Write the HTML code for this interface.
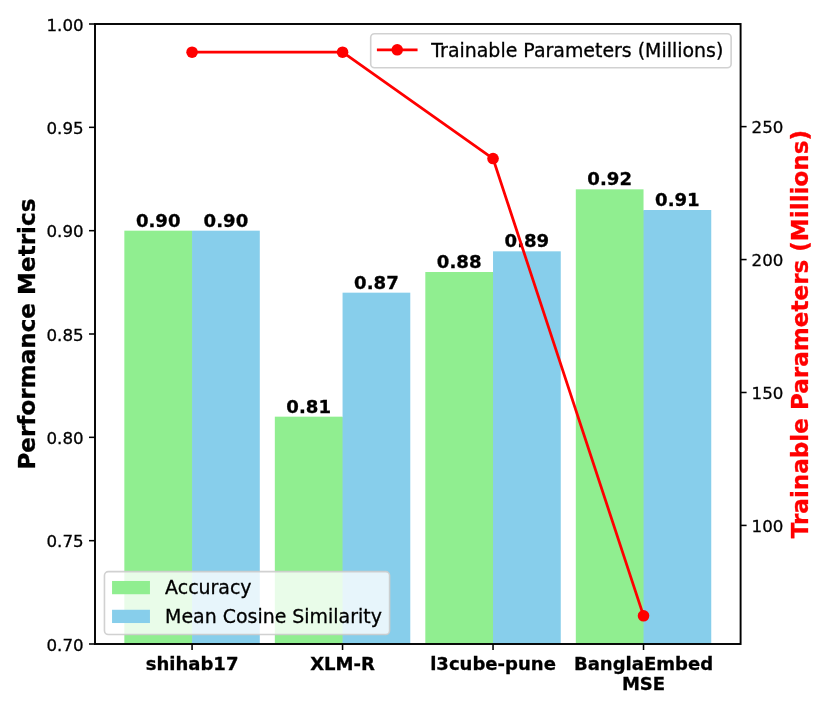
<!DOCTYPE html>
<html lang="en"><head><meta charset="utf-8"><title>Performance Metrics vs Trainable Parameters</title>
<style>html,body{margin:0;padding:0;background:#fff}svg{display:block}text{font-family:"DejaVu Sans","Liberation Sans",sans-serif;fill:#000}text{stroke:#000;stroke-width:0.3px}.b{font-weight:bold}</style></head><body>
<svg width="830" height="712" viewBox="0 0 830 712">
<rect width="830" height="712" fill="#fff"/>
<g shape-rendering="auto">
<rect x="124.35" y="230.67" width="67.72" height="413.33" fill="#90ee90"/>
<rect x="191.57" y="231.17" width="1.2" height="412.83" fill="#90ee90"/>
<rect x="192.07" y="230.67" width="67.72" height="413.33" fill="#87ceeb"/>
<rect x="274.83" y="416.67" width="67.72" height="227.33" fill="#90ee90"/>
<rect x="342.06" y="417.17" width="1.2" height="226.83" fill="#90ee90"/>
<rect x="342.56" y="292.67" width="67.72" height="351.33" fill="#87ceeb"/>
<rect x="425.32" y="272.00" width="67.72" height="372.00" fill="#90ee90"/>
<rect x="492.54" y="272.50" width="1.2" height="371.50" fill="#90ee90"/>
<rect x="493.04" y="251.33" width="67.72" height="392.67" fill="#87ceeb"/>
<rect x="575.81" y="189.33" width="67.72" height="454.67" fill="#90ee90"/>
<rect x="643.03" y="210.50" width="1.2" height="433.50" fill="#90ee90"/>
<rect x="643.53" y="210.00" width="67.72" height="434.00" fill="#87ceeb"/>
</g>
<g stroke="#000" stroke-width="1.54">
<line x1="89.00" y1="644.00" x2="95.00" y2="644.00"/>
<line x1="89.00" y1="540.67" x2="95.00" y2="540.67"/>
<line x1="89.00" y1="437.33" x2="95.00" y2="437.33"/>
<line x1="89.00" y1="334.00" x2="95.00" y2="334.00"/>
<line x1="89.00" y1="230.67" x2="95.00" y2="230.67"/>
<line x1="89.00" y1="127.33" x2="95.00" y2="127.33"/>
<line x1="89.00" y1="24.00" x2="95.00" y2="24.00"/>
<line x1="192.07" y1="644.00" x2="192.07" y2="650.00"/>
<line x1="342.56" y1="644.00" x2="342.56" y2="650.00"/>
<line x1="493.04" y1="644.00" x2="493.04" y2="650.00"/>
<line x1="643.53" y1="644.00" x2="643.53" y2="650.00"/>
<line x1="740.60" y1="525.42" x2="746.60" y2="525.42"/>
<line x1="740.60" y1="392.49" x2="746.60" y2="392.49"/>
<line x1="740.60" y1="259.56" x2="746.60" y2="259.56"/>
<line x1="740.60" y1="126.62" x2="746.60" y2="126.62"/>
</g>
<g font-size="16.67" text-anchor="end">
<text x="83.60" y="650.50">0.70</text>
<text x="83.60" y="547.17">0.75</text>
<text x="83.60" y="443.83">0.80</text>
<text x="83.60" y="340.50">0.85</text>
<text x="83.60" y="237.17">0.90</text>
<text x="83.60" y="133.83">0.95</text>
<text x="83.60" y="30.50">1.00</text>
</g>
<g font-size="16.67" text-anchor="start">
<text x="751.60" y="531.72">100</text>
<text x="751.60" y="398.79">150</text>
<text x="751.60" y="265.86">200</text>
<text x="751.60" y="132.92">250</text>
</g>
<g class="b" font-size="18.05" text-anchor="middle">
<text x="192.07" y="669.60">shihab17</text>
<text x="342.56" y="669.60">XLM-R</text>
<text x="493.04" y="669.60">l3cube-pune</text>
<text x="643.53" y="669.60">BanglaEmbed</text>
<text x="643.53" y="689.90">MSE</text>
</g>
<g class="b" font-size="18.1" text-anchor="middle">
<text x="158.21" y="226.67">0.90</text>
<text x="225.93" y="226.67">0.90</text>
<text x="308.70" y="412.67">0.81</text>
<text x="376.42" y="288.67">0.87</text>
<text x="459.18" y="268.00">0.88</text>
<text x="526.90" y="247.33">0.89</text>
<text x="609.67" y="185.33">0.92</text>
<text x="677.39" y="206.00">0.91</text>
</g>
<text class="b" font-size="23.08" text-anchor="middle" transform="translate(35.3 334.10) rotate(-90)">Performance Metrics</text>
<rect x="104.47" y="571.59" width="285.12" height="62.94" rx="3.85" fill="#fff" fill-opacity="0.8" stroke="#ccc" stroke-opacity="0.9" stroke-width="1.6"/>
<rect x="112.05" y="580.97" width="37.90" height="13.26" fill="#90ee90"/>
<text font-size="18.95" x="165.11" y="594.23">Accuracy</text>
<rect x="112.05" y="609.77" width="37.90" height="13.26" fill="#87ceeb"/>
<text font-size="18.95" x="165.11" y="623.33">Mean Cosine Similarity</text>
<rect x="95.00" y="24.00" width="645.60" height="620.00" fill="none" stroke="#000" stroke-width="1.92" stroke-linejoin="miter"/>
<polyline points="192.07,52.18 342.56,52.18 493.04,158.53 643.53,615.82" fill="none" stroke="#ff0000" stroke-width="2.75" stroke-linejoin="round" stroke-linecap="square"/>
<circle cx="192.07" cy="52.18" r="5.80" fill="#ff0000"/>
<circle cx="342.56" cy="52.18" r="5.80" fill="#ff0000"/>
<circle cx="493.04" cy="158.53" r="5.80" fill="#ff0000"/>
<circle cx="643.53" cy="615.82" r="5.80" fill="#ff0000"/>
<text class="b" font-size="23.08" text-anchor="middle" style="fill:#ff0000;stroke:#ff0000" transform="translate(807.9 334.10) rotate(-90)">Trainable Parameters (Millions)</text>
<rect x="370.70" y="33.77" width="360.43" height="33.96" rx="3.85" fill="#fff" fill-opacity="0.8" stroke="#ccc" stroke-opacity="0.9" stroke-width="1.6"/>
<line x1="378.28" y1="49.79" x2="416.18" y2="49.79" stroke="#ff0000" stroke-width="2.75" stroke-linecap="square"/>
<circle cx="397.23" cy="49.79" r="5.80" fill="#ff0000"/>
<text font-size="18.95" x="431.34" y="56.52">Trainable Parameters (Millions)</text>
</svg></body></html>
